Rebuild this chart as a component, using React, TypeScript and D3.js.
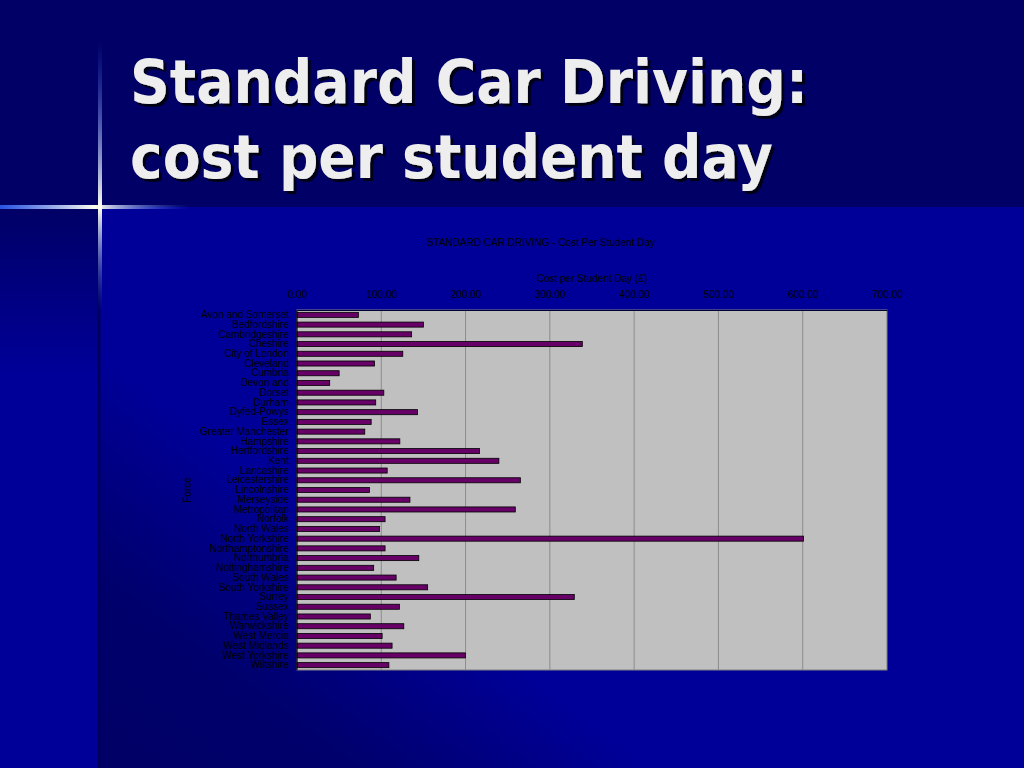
import React, { useEffect, useRef } from 'react';
import * as d3 from 'd3';

// police forces, top to bottom
const forces = [
    'Avon and Somerset', 'Bedfordshire', 'Cambridgeshire', 'Cheshire', 'City of London',
    'Cleveland', 'Cumbria', 'Devon and', 'Dorset', 'Durham', 'Dyfed-Powys', 'Essex',
    'Greater Manchester', 'Hampshire', 'Hertfordshire', 'Kent', 'Lancashire',
    'Leicestershire', 'Lincolnshire', 'Merseyside', 'Metropolitan', 'Norfolk',
    'North Wales', 'North Yorkshire', 'Northamptonshire', 'Northumbria',
    'Nottinghamshire', 'South Wales', 'South Yorkshire', 'Surrey', 'Sussex',
    'Thames Valley', 'Warwickshire', 'West Mercia', 'West Midlands', 'West Yorkshire',
    'Wiltshire',
];

// cost per student day (£)
const costs = [
    72.8, 150, 136, 338.5, 125.5, 92, 50, 38.8, 103, 93.4, 143, 88, 80.4, 122, 216.5,
    239.5, 107, 265, 86, 134, 259, 104.5, 98, 601, 104.5, 144.5, 91, 117.6, 155, 329,
    121.5, 87, 126.7, 101, 112.8, 200, 109,
];

const xTicks = [0, 100, 200, 300, 400, 500, 600, 700];

const titleLines = ['Standard Car Driving:', 'cost per student day'];
const chartTitle = 'STANDARD CAR DRIVING - Cost Per Student Day';
const xTitle = 'Cost per Student Day (£)';
const yTitle = 'Force';

const App: React.FC = () => {
    const svgRef = useRef<SVGSVGElement | null>(null);

    useEffect(() => {
        const width = 1024;
        const height = 768;
        const plot = { left: 297, right: 887, top: 310, bottom: 670 };
        const chartFont = '"Liberation Sans", Arial, sans-serif';

        const svg = d3.select(svgRef.current)
            .attr('width', width)
            .attr('height', height);
        svg.selectAll('*').remove();

        // slide background
        const defs = svg.append('defs');
        const mainGrad = defs.append('linearGradient')
            .attr('id', 'main-bg').attr('gradientUnits', 'userSpaceOnUse')
            .attr('x1', 100).attr('y1', 768).attr('x2', 300).attr('y2', 500);
        mainGrad.append('stop').attr('offset', '0%').attr('stop-color', '#000066');
        mainGrad.append('stop').attr('offset', '45%').attr('stop-color', '#00006c');
        mainGrad.append('stop').attr('offset', '100%').attr('stop-color', '#000099');

        const sideGrad = defs.append('linearGradient')
            .attr('id', 'side-bg').attr('x1', '0%').attr('y1', '0%').attr('x2', '0%').attr('y2', '100%');
        sideGrad.append('stop').attr('offset', '0%').attr('stop-color', '#000066');
        sideGrad.append('stop').attr('offset', '30%').attr('stop-color', '#000099');
        sideGrad.append('stop').attr('offset', '100%').attr('stop-color', '#000099');

        const hGlow = defs.append('linearGradient')
            .attr('id', 'h-glow').attr('x1', '0%').attr('y1', '0%').attr('x2', '100%').attr('y2', '0%');
        hGlow.append('stop').attr('offset', '0%').attr('stop-color', '#3366ff').attr('stop-opacity', 0.8);
        hGlow.append('stop').attr('offset', '50%').attr('stop-color', '#ffffee').attr('stop-opacity', 1);
        hGlow.append('stop').attr('offset', '100%').attr('stop-color', '#3366ff').attr('stop-opacity', 0);

        const vGlow = defs.append('linearGradient')
            .attr('id', 'v-glow').attr('x1', '0%').attr('y1', '0%').attr('x2', '0%').attr('y2', '100%');
        vGlow.append('stop').attr('offset', '0%').attr('stop-color', '#3366ff').attr('stop-opacity', 0);
        vGlow.append('stop').attr('offset', '62%').attr('stop-color', '#ffffee').attr('stop-opacity', 1);
        vGlow.append('stop').attr('offset', '100%').attr('stop-color', '#3366ff').attr('stop-opacity', 0);

        const shadow = defs.append('filter')
            .attr('id', 'title-shadow').attr('x', '-5%').attr('y', '-20%').attr('width', '115%').attr('height', '150%');
        shadow.append('feDropShadow')
            .attr('dx', 3).attr('dy', 3).attr('stdDeviation', 0.6)
            .attr('flood-color', '#000011').attr('flood-opacity', 0.9);

        svg.append('rect').attr('width', width).attr('height', height).attr('fill', '#000066');
        svg.append('rect').attr('x', 98).attr('y', 207).attr('width', width - 98).attr('height', height - 207)
            .attr('fill', 'url(#main-bg)');
        svg.append('rect').attr('x', 0).attr('y', 207).attr('width', 98).attr('height', height - 207)
            .attr('fill', 'url(#side-bg)');
        svg.append('line').attr('x1', 99).attr('x2', 99).attr('y1', 207).attr('y2', height)
            .attr('stroke', '#00005a').attr('stroke-width', 3);

        // sparkle
        svg.append('rect').attr('x', 0).attr('y', 205).attr('width', 190).attr('height', 4)
            .attr('fill', 'url(#h-glow)');
        svg.append('rect').attr('x', 98).attr('y', 40).attr('width', 4).attr('height', 270)
            .attr('fill', 'url(#v-glow)');

        // slide title
        const title = svg.append('g')
            .attr('font-family', '"DejaVu Sans", Tahoma, Verdana, sans-serif')
            .attr('font-weight', 'bold')
            .attr('font-size', 60)
            .attr('filter', 'url(#title-shadow)');
        const titleWidths = [678, 643];
        titleLines.forEach((t, i) => {
            title.append('text').attr('x', 130).attr('y', 103 + i * 75).text(t)
                .attr('fill', '#eeeeee')
                .attr('textLength', titleWidths[i]).attr('lengthAdjust', 'spacingAndGlyphs');
        });

        // scales
        const xScale = d3.scaleLinear()
            .domain([0, 700])
            .range([plot.left, plot.right]);

        const yScale = d3.scaleBand<string>()
            .domain(forces)
            .range([plot.top, plot.bottom])
            .paddingInner(0.48)
            .paddingOuter(0.24);

        // plot area
        svg.append('rect')
            .attr('x', plot.left).attr('y', plot.top)
            .attr('width', plot.right - plot.left).attr('height', plot.bottom - plot.top)
            .attr('fill', '#c0c0c0')
            .attr('stroke', '#808080')
            .attr('stroke-width', 1);

        svg.append('g')
            .selectAll('line')
            .data(xTicks.slice(1, -1))
            .join('line')
            .attr('x1', d => xScale(d)).attr('x2', d => xScale(d))
            .attr('y1', plot.top).attr('y2', plot.bottom)
            .attr('stroke', '#8c8c8c')
            .attr('stroke-width', 1);

        // bars
        svg.append('g')
            .selectAll('rect')
            .data(costs)
            .join('rect')
            .attr('x', xScale(0))
            .attr('y', (_, i) => yScale(forces[i]) as number)
            .attr('width', d => xScale(d) - xScale(0))
            .attr('height', yScale.bandwidth())
            .attr('fill', '#660066')
            .attr('stroke', '#000000')
            .attr('stroke-width', 0.8);

        // left axis line
        svg.append('line')
            .attr('x1', plot.left).attr('x2', plot.left)
            .attr('y1', plot.top).attr('y2', plot.bottom)
            .attr('stroke', '#000000').attr('stroke-width', 1);

        // top axis
        const xAxis = svg.append('g')
            .attr('transform', `translate(0,${plot.top})`)
            .call(d3.axisTop(xScale).tickValues(xTicks).tickFormat(d3.format('.2f')).tickSize(0).tickPadding(12));
        xAxis.select('.domain').attr('stroke', '#000033');
        xAxis.selectAll('text')
            .attr('font-family', chartFont).attr('font-size', 10).attr('fill', '#000000');

        // category axis
        const yAxis = svg.append('g')
            .attr('transform', `translate(${plot.left},0)`)
            .call(d3.axisLeft(yScale).tickSize(0).tickPadding(8));
        yAxis.select('.domain').remove();
        yAxis.selectAll('text')
            .attr('font-family', chartFont).attr('font-size', 10).attr('fill', '#000000');

        // chart texts
        svg.append('text')
            .attr('x', 541).attr('y', 246)
            .attr('text-anchor', 'middle')
            .attr('font-family', chartFont).attr('font-size', 10)
            .attr('fill', '#000000')
            .text(chartTitle);

        svg.append('text')
            .attr('x', 592).attr('y', 282)
            .attr('text-anchor', 'middle')
            .attr('font-family', chartFont).attr('font-size', 10)
            .attr('fill', '#000000')
            .text(xTitle);

        svg.append('text')
            .attr('transform', `translate(191,${(plot.top + plot.bottom) / 2}) rotate(-90)`)
            .attr('text-anchor', 'middle')
            .attr('font-family', chartFont).attr('font-size', 10)
            .attr('fill', '#000000')
            .text(yTitle);
    }, []);

    return <svg ref={svgRef} style={{ position: 'absolute', left: 0, top: 0 }}></svg>;
};

export default App;
